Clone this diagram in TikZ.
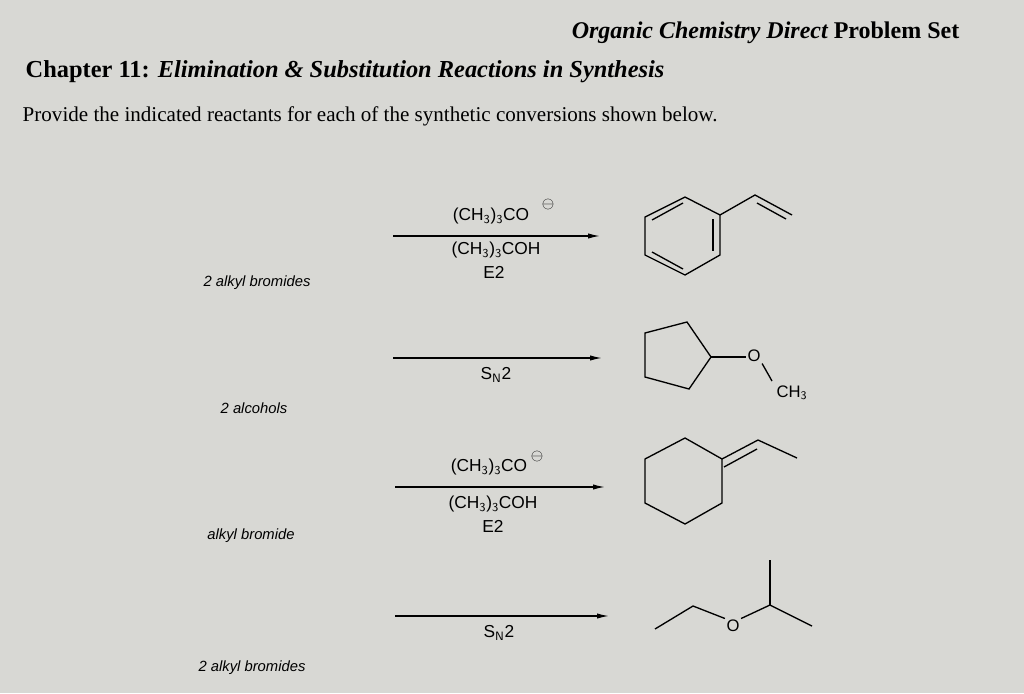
\documentclass[tikz,border=0pt]{standalone}
\usepackage{fontspec}
\setmainfont{Liberation Serif}
\newfontfamily\lab{Liberation Sans}
\usetikzlibrary{arrows.meta}
\begin{document}
\begin{tikzpicture}[x=0.75pt,y=-0.75pt,
  bond/.style={line width=1pt,black},
  rxn/.style={line width=1pt,-{Latex[length=9pt,width=4pt]}},
  reag/.style={font=\lab\fontsize{13}{14}\selectfont},
  side/.style={font=\lab\itshape\fontsize{11.1}{13}\selectfont}]
\definecolor{paper}{RGB}{216,216,212}
\fill[paper] (0,0) rectangle (1024,693);
\useasboundingbox (0,0) rectangle (1024,693);
\node[anchor=east,font=\fontsize{18}{20}\selectfont\bfseries] (ttl) at (964,33) {\itshape Organic Chemistry Direct \upshape Problem Set};
\node[anchor=west,font=\fontsize{18.3}{20}\selectfont\bfseries] (ch) at (21,72) {Chapter 11: \itshape Elimination \& Substitution Reactions in Synthesis};
\node[anchor=west,font=\fontsize{15.8}{18}\selectfont] (pr) at (18,116) {Provide the indicated reactants for each of the synthetic conversions shown below.};
% arrows
\coordinate (a1s) at (393,236); \coordinate (a1e) at (600,236);
\coordinate (a2s) at (393,358); \coordinate (a2e) at (602,358);
\coordinate (a3s) at (395,487); \coordinate (a3e) at (605,487);
\coordinate (a4s) at (395,616); \coordinate (a4e) at (609,616);
\draw[rxn] (a1s) -- (a1e);
\draw[rxn] (a2s) -- (a2e);
\draw[rxn] (a3s) -- (a3e);
\draw[rxn] (a4s) -- (a4e);
\node[reag] (r1a) at (491,216) {(CH$_{\mathsf 3}$)$_{\mathsf 3}$CO};
\node[font=\lab\fontsize{13}{14}\selectfont] (m1) at (548,204) {$\ominus$};
\node[reag] (r1b) at (496,250) {(CH$_{\mathsf 3}$)$_{\mathsf 3}$COH};
\node[reag] (r1c) at (494,272) {E2};
\node[reag] (r2) at (496,375) {S$_{\mathsf N}$2};
\node[reag] (r3a) at (489,467) {(CH$_{\mathsf 3}$)$_{\mathsf 3}$CO};
\node[font=\lab\fontsize{13}{14}\selectfont] (m3) at (537,456) {$\ominus$};
\node[reag] (r3b) at (493,504) {(CH$_{\mathsf 3}$)$_{\mathsf 3}$COH};
\node[reag] (r3c) at (493,526) {E2};
\node[reag] (r4) at (499,633) {S$_{\mathsf N}$2};
\node[side] (s1) at (257,283) {2 alkyl bromides};
\node[side] (s2) at (254,408) {2 alcohols};
\node[side] (s3) at (251,536) {alkyl bromide};
\node[side] (s4) at (252,668) {2 alkyl bromides};
% styrene
\draw[bond] (685,197) -- (720,215) -- (720,255) -- (685,275) -- (645,255) -- (645,217) -- cycle;
\draw[bond] (652,220) -- (683,203);
\draw[bond] (713,219) -- (713,251);
\draw[bond] (652,252) -- (683,269);
\draw[bond] (720,215) -- (755,195) -- (792,215);
\draw[bond] (757,203) -- (786,219);
% cyclopentyl methyl ether
\draw[bond] (645,333) -- (687,322) -- (711,357) -- (689,389) -- (645,377) -- cycle;
\node[font=\lab\fontsize{12.5}{14}\selectfont,inner sep=1pt] (o2) at (754,356) {O};
\draw[bond] (711,357) -- (o2.west |- 0,357);
\node[font=\lab\fontsize{12.5}{14}\selectfont,inner sep=1pt] (me) at (792,393) {CH$_{\mathsf 3}$};
\draw[bond] (o2.south east) -- (772,381);
% ethylidene cyclohexane
\draw[bond] (685,438) -- (722,459) -- (722,503) -- (685,524) -- (645,503) -- (645,459) -- cycle;
\draw[bond] (722,459) -- (758,440) -- (797,458);
\draw[bond] (724,467) -- (757,449);
% ethyl isopropyl ether
\node[font=\lab\fontsize{12.5}{14}\selectfont,inner sep=1pt] (o4) at (733,626) {O};
\draw[bond] (655,629) -- (693,606) -- (o4.north west);
\draw[bond] (o4.north east) -- (770,605) -- (812,626);
\draw[bond] (770,605) -- (770,560);
\end{tikzpicture}
\end{document}
